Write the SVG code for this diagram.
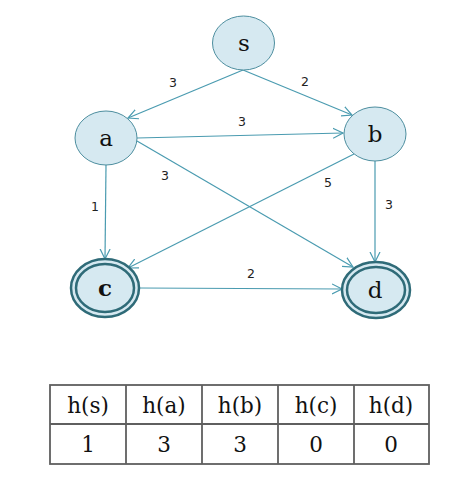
<svg xmlns="http://www.w3.org/2000/svg" width="462" height="487" viewBox="0 0 462 487">
<style>
.node{fill:#d6e9f1;stroke:#4d8e9f;stroke-width:1}
.acc{fill:#d6e9f1;stroke:#2f6b78;stroke-width:2.5}
.acc2{fill:none;stroke:#2f6b78;stroke-width:2.5}
.nl{font-family:"DejaVu Serif","Liberation Serif",serif;font-size:23px;fill:#111;text-anchor:middle}
.el{font-family:"DejaVu Sans","Liberation Sans",sans-serif;font-size:12.5px;fill:#222;text-anchor:middle}
.edge{stroke:#4a9bb0;stroke-width:1.2;fill:none;marker-end:url(#arr)}
.grid{stroke:#5f5f5f;stroke-width:1.8;fill:none}
.tt{font-family:"DejaVu Serif","Liberation Serif",serif;font-size:21.5px;fill:#111;text-anchor:middle}
</style>
<defs>
<marker id="arr" markerUnits="userSpaceOnUse" markerWidth="12" markerHeight="12" refX="10" refY="5" orient="auto" viewBox="0 0 12 10">
<path d="M0,0 L10,5 L0,10" fill="none" stroke="#4a9bb0" stroke-width="1.2"/>
</marker>
</defs>
<rect width="462" height="487" fill="#fff"/>
<g id="edges">
<line class="edge" x1="243" y1="70" x2="128" y2="118"/>
<line class="edge" x1="243" y1="70" x2="352" y2="115"/>
<line class="edge" x1="137" y1="138" x2="343" y2="133"/>
<line class="edge" x1="137" y1="141" x2="353" y2="267"/>
<line class="edge" x1="354" y1="154" x2="128" y2="268"/>
<line class="edge" x1="106" y1="165" x2="105" y2="259"/>
<line class="edge" x1="375" y1="161" x2="375" y2="262"/>
<line class="edge" x1="139" y1="288" x2="342" y2="289"/>
<text class="el" x="173" y="87">3</text>
<text class="el" x="305" y="86">2</text>
<text class="el" x="242" y="126">3</text>
<text class="el" x="165" y="180">3</text>
<text class="el" x="328" y="187">5</text>
<text class="el" x="95" y="211">1</text>
<text class="el" x="389" y="209">3</text>
<text class="el" x="251" y="278">2</text>
</g>
<g id="s">
<ellipse class="node" cx="243.5" cy="43" rx="31" ry="27"/>
<text class="nl" x="244" y="51">s</text>
</g>
<g id="a">
<ellipse class="node" cx="106" cy="138" rx="31" ry="27"/>
<text class="nl" x="106" y="146">a</text>
</g>
<g id="b">
<ellipse class="node" cx="375" cy="134" rx="31" ry="27"/>
<text class="nl" x="375" y="142">b</text>
</g>
<g id="c">
<ellipse class="acc" cx="105" cy="288" rx="34" ry="29"/>
<ellipse class="acc2" cx="105" cy="288" rx="29" ry="24"/>
<text class="nl" x="105" y="296" font-weight="bold">c</text>
</g>
<g id="d">
<ellipse class="acc" cx="376" cy="290" rx="34" ry="28"/>
<ellipse class="acc2" cx="376" cy="290" rx="29" ry="23"/>
<text class="nl" x="375" y="298">d</text>
</g>
<g id="table">
<rect class="grid" x="50" y="385" width="379" height="79"/>
<line class="grid" x1="50" y1="424" x2="429" y2="424"/>
<line class="grid" x1="126" y1="385" x2="126" y2="464"/>
<line class="grid" x1="202" y1="385" x2="202" y2="464"/>
<line class="grid" x1="278" y1="385" x2="278" y2="464"/>
<line class="grid" x1="354" y1="385" x2="354" y2="464"/>
<text class="tt" x="88" y="413">h(s)</text>
<text class="tt" x="164" y="413">h(a)</text>
<text class="tt" x="240" y="413">h(b)</text>
<text class="tt" x="316" y="413">h(c)</text>
<text class="tt" x="391" y="413">h(d)</text>
<text class="tt" x="88" y="452">1</text>
<text class="tt" x="164" y="452">3</text>
<text class="tt" x="240" y="452">3</text>
<text class="tt" x="316" y="452">0</text>
<text class="tt" x="391" y="452">0</text>
</g>
</svg>
